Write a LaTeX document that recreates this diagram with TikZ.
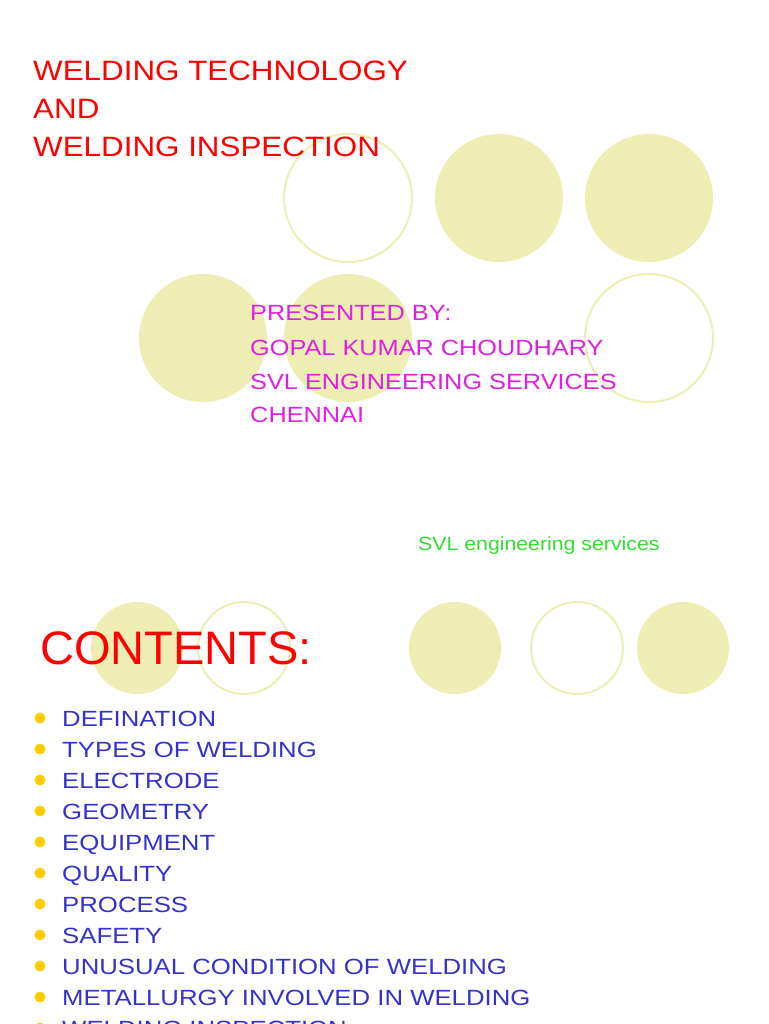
\documentclass[tikz,border=0pt]{standalone}
\usepackage{fontspec}
\setmainfont{Liberation Sans}
\definecolor{circ}{HTML}{EEEEB4}
\definecolor{ttl}{HTML}{FF0000}
\definecolor{mag}{HTML}{E020E0}
\definecolor{grn}{HTML}{33DD33}
\definecolor{blu}{HTML}{3333CC}
\definecolor{bul}{HTML}{FFCC00}
\tikzset{x=1pt,y=-1pt,
 fc/.style={fill=circ,draw=none},
 oc/.style={draw=circ,line width=2pt},
 txt/.style={anchor=base west,inner sep=0pt,transform shape},
 item/.style={txt,text=blu,xscale=1.17,font=\fontsize{22}{22}\selectfont}}
\begin{document}
\begin{tikzpicture}
\useasboundingbox[fill=white] (0,0) rectangle (768,1024);
\clip (0,0) rectangle (768,1024);
\draw[oc] (348,198) circle (64);
\fill[circ] (499,198) circle (64);
\fill[circ] (649,198) circle (64);
\fill[circ] (203,338) circle (64);
\fill[circ] (348,338) circle (64);
\draw[oc] (649,338) circle (64);
\fill[circ] (137,648) circle (46);
\draw[oc] (244,648) circle (46);
\fill[circ] (455,648) circle (46);
\draw[oc] (577,648) circle (46);
\fill[circ] (683,648) circle (46);
\node[txt,xscale=1.12,text=ttl,font=\fontsize{28}{28}\selectfont] (t1) at (33,81) {WELDING TECHNOLOGY};
\node[txt,xscale=1.12,text=ttl,font=\fontsize{28}{28}\selectfont] (t2) at (33,119) {AND};
\node[txt,xscale=1.12,text=ttl,font=\fontsize{28}{28}\selectfont] (t3) at (33,157) {WELDING INSPECTION};
\node[txt,xscale=1.15,text=mag,font=\fontsize{22}{22}\selectfont] (p1) at (250,320) {PRESENTED BY:};
\node[txt,xscale=1.15,text=mag,font=\fontsize{22}{22}\selectfont] (p2) at (250,355) {GOPAL KUMAR CHOUDHARY};
\node[txt,xscale=1.15,text=mag,font=\fontsize{22}{22}\selectfont] (p3) at (250,389) {SVL ENGINEERING SERVICES};
\node[txt,xscale=1.15,text=mag,font=\fontsize{22}{22}\selectfont] (p4) at (250,422) {CHENNAI};
\node[txt,xscale=1.12,text=grn,font=\fontsize{19}{19}\selectfont] (svl) at (418,550) {SVL engineering services};
\node[txt,text=ttl,font=\fontsize{47}{47}\selectfont] (c) at (40,664) {CONTENTS:};
\foreach \t [count=\i] in {DEFINATION,TYPES OF WELDING,ELECTRODE,GEOMETRY,EQUIPMENT,QUALITY,PROCESS,SAFETY,UNUSUAL CONDITION OF WELDING,METALLURGY INVOLVED IN WELDING,WELDING INSPECTION}{
  \fill[bul] (40,{726+31*(\i-1)-8}) circle (5.5);
  \node[item] (i\i) at (62,{726+31*(\i-1)}) {\t};
}
\end{tikzpicture}
\end{document}
